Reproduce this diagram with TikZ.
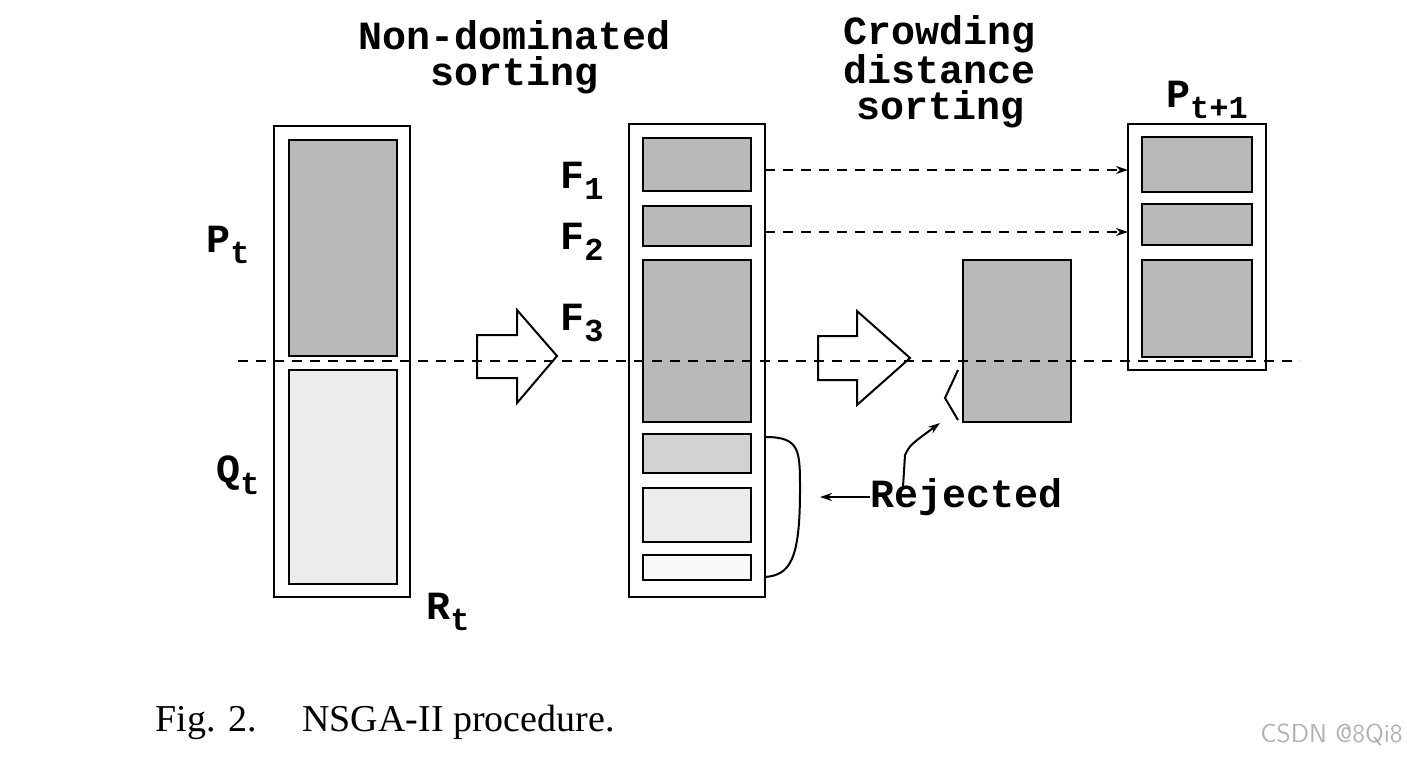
\documentclass[tikz,border=0pt]{standalone}
\usepackage{fontspec}
\setmainfont{Liberation Serif}
\newfontfamily\mono{Liberation Mono}
\usetikzlibrary{arrows.meta}
\newcommand{\sbt}[1]{\raisebox{-0.55ex}{\fontsize{16}{16}\selectfont #1}}
\begin{document}
\begin{tikzpicture}[x=0.5pt,y=-0.5pt]
\tikzset{
  outer/.style={draw,line width=1.2pt,fill=white},
  dark/.style={draw,line width=1pt,fill=gray!55},
  mid/.style={draw,line width=1pt,fill=gray!35},
  light/.style={draw,line width=1pt,fill=gray!15},
  lbl/.style={font=\mono\bfseries\fontsize{20}{18}\selectfont,inner sep=0pt},
  dline/.style={line width=0.7pt,dash pattern=on 5pt off 4pt},
  tip/.style={-{Stealth[length=6pt,width=4pt]}},
  bigarrow/.style={draw,line width=1pt,fill=white}
}
\useasboundingbox (0,0) rectangle (1407,761);
% left column
\draw[outer] (274,126) rectangle (410,597);
\draw[dark] (289,140) rectangle (397,356);
\draw[light] (289,370) rectangle (397,584);
\node[lbl] (lpt) at (228,245) {P\sbt{t}};
\node[lbl] (lqt) at (238,475) {Q\sbt{t}};
\node[lbl] (lrt) at (448,612) {R\sbt{t}};
% titles
\node[lbl,align=center] (t1) at (515,57) {Non-dominated\\sorting};
\node[lbl,align=center] (t2) at (940,72) {Crowding\\distance\\sorting};
% big arrows
\draw[bigarrow] (477,335) -- (517,335) -- (517,310) -- (557,356) -- (517,403) -- (517,378) -- (477,378) -- cycle;
\draw[bigarrow] (818,336) -- (857,336) -- (857,311) -- (910,358) -- (857,405) -- (857,380) -- (818,380) -- cycle;
% middle column
\draw[outer] (629,124) rectangle (765,597);
\draw[dark] (643,138) rectangle (751,191);
\draw[dark] (643,206) rectangle (751,246);
\draw[dark] (643,260) rectangle (751,422);
\draw[mid] (643,434) rectangle (751,473);
\draw[light] (643,488) rectangle (751,542);
\draw[fill=gray!5,line width=1pt] (643,555) rectangle (751,580);
\node[lbl] (lf1) at (582,181) {F\sbt{1}};
\node[lbl] (lf2) at (582,242) {F\sbt{2}};
\node[lbl] (lf3) at (582,323) {F\sbt{3}};
% sorted F3
\draw[dark] (963,260) rectangle (1071,422);
\draw[line width=1pt] (958,370) -- (945,398) -- (958,420);
% P t+1
\draw[outer] (1128,124) rectangle (1266,370);
\draw[dark] (1142,137) rectangle (1252,192);
\draw[dark] (1142,204) rectangle (1252,245);
\draw[dark] (1142,260) rectangle (1252,357);
\node[lbl] (lp1) at (1207,100) {P\sbt{t+1}};
% dashed arrows
\coordinate (s1) at (765,170);
\coordinate (s2) at (765,232);
\coordinate (a1) at (1128,170);
\coordinate (a2) at (1128,232);
\draw[dline,tip] (s1) -- (a1);
\draw[dline,tip] (s2) -- (a2);
% dashed horizontal
\draw[dline] (238,361) -- (1300,361);
% brace and rejected
\draw[line width=1pt] (765,437) .. controls (800,437) and (800,450) .. (800,490) .. controls (800,560) and (790,575) .. (765,577);
\node[lbl,anchor=west] (rej) at (870,497) {Rejected};
\coordinate (bp) at (820,497);
\draw[line width=1pt,tip] (rej.west) -- (bp);
\coordinate (rp) at (940,423);
\draw[line width=1pt,tip] (903,487) -- (905,455) .. controls (910,445) .. (rp);
% caption
\node[anchor=west,inner sep=0,font=\fontsize{19}{20}\selectfont] (cap) at (155,722) {Fig. 2.\hspace{1.2em}NSGA-II procedure.};
\node[anchor=east,inner sep=0,font=\sffamily\fontsize{13}{14}\selectfont,text=gray!60] (wm) at (1403,735) {CSDN @8Qi8};
\end{tikzpicture}
\end{document}
